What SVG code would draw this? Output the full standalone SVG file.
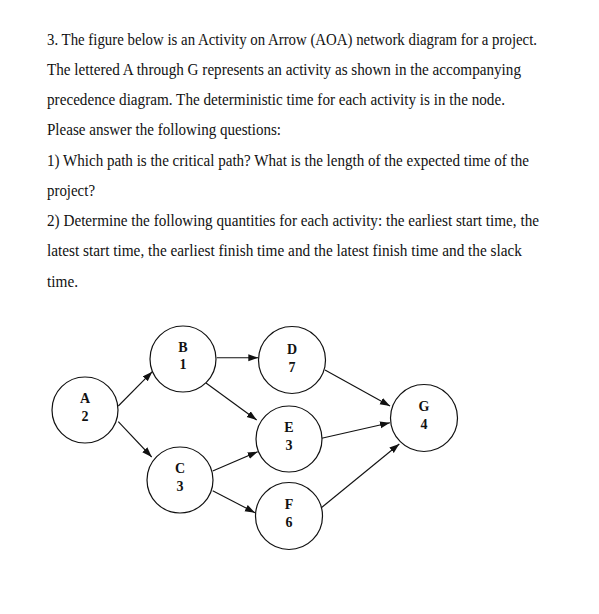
<svg xmlns="http://www.w3.org/2000/svg" width="599" height="614" viewBox="0 0 599 614">
<style>
.q{font-family:"Liberation Serif","Times New Roman",serif;font-size:16.5px;fill:#111}
.n{fill:#fff;stroke:#111;stroke-width:1.2}
.t{font-family:"Liberation Serif","Times New Roman",serif;font-size:14px;font-weight:bold;fill:#111;text-anchor:middle}
.e{stroke:#111;stroke-width:1.1;fill:none;marker-end:url(#ah)}
</style>
<defs>
<marker id="ah" markerUnits="userSpaceOnUse" markerWidth="11" markerHeight="8" refX="10" refY="3.5" orient="auto">
<path d="M0,0 L10,3.5 L0,7 z" fill="#111"/>
</marker>
</defs>
<rect width="599" height="614" fill="#fff"/>
<g id="question">
<text class="q" x="47" y="45" textLength="490" lengthAdjust="spacingAndGlyphs">3. The figure below is an Activity on Arrow (AOA) network diagram for a project.</text>
<text class="q" x="47" y="75" textLength="474" lengthAdjust="spacingAndGlyphs">The lettered A through G represents an activity as shown in the accompanying</text>
<text class="q" x="47" y="105" textLength="458" lengthAdjust="spacingAndGlyphs">precedence diagram. The deterministic time for each activity is in the node.</text>
<text class="q" x="47" y="135" textLength="234" lengthAdjust="spacingAndGlyphs">Please answer the following questions:</text>
<text class="q" x="47" y="166" textLength="482" lengthAdjust="spacingAndGlyphs">1) Which path is the critical path? What is the length of the expected time of the</text>
<text class="q" x="47" y="196" textLength="48" lengthAdjust="spacingAndGlyphs">project?</text>
<text class="q" x="47" y="226" textLength="492" lengthAdjust="spacingAndGlyphs">2) Determine the following quantities for each activity: the earliest start time, the</text>
<text class="q" x="47" y="256" textLength="475" lengthAdjust="spacingAndGlyphs">latest start time, the earliest finish time and the latest finish time and the slack</text>
<text class="q" x="47" y="287" textLength="31" lengthAdjust="spacingAndGlyphs">time.</text>
</g>
<g id="connectors">
<line class="e" x1="118.3" y1="406" x2="152.3" y2="371.7"/>
<line class="e" x1="118.3" y1="421.7" x2="151.7" y2="457"/>
<line class="e" x1="216.7" y1="357.7" x2="258.3" y2="357.7"/>
<line class="e" x1="206" y1="383" x2="256.7" y2="420"/>
<line class="e" x1="212.7" y1="471" x2="257.7" y2="451.7"/>
<line class="e" x1="212.7" y1="490.7" x2="255" y2="512.7"/>
<line class="e" x1="325" y1="370" x2="390" y2="406"/>
<line class="e" x1="321.7" y1="438.3" x2="390" y2="422.7"/>
<line class="e" x1="320.7" y1="508.3" x2="399.3" y2="444"/>
</g>
<g id="node-A"><circle class="n" cx="85" cy="410" r="33"/><text class="t" x="85" y="403">A</text><text class="t" x="85" y="421">2</text></g>
<g id="node-B"><circle class="n" cx="183" cy="359" r="33"/><text class="t" x="183" y="352">B</text><text class="t" x="183" y="369">1</text></g>
<g id="node-C"><circle class="n" cx="180" cy="480" r="33"/><text class="t" x="180" y="473">C</text><text class="t" x="180" y="491">3</text></g>
<g id="node-D"><circle class="n" cx="292" cy="360" r="33.5"/><text class="t" x="292" y="354">D</text><text class="t" x="292" y="372">7</text></g>
<g id="node-E"><circle class="n" cx="289" cy="439" r="33"/><text class="t" x="289" y="432">E</text><text class="t" x="289" y="450">3</text></g>
<g id="node-F"><circle class="n" cx="289" cy="516" r="33.5"/><text class="t" x="289" y="509">F</text><text class="t" x="289" y="527">6</text></g>
<g id="node-G"><circle class="n" cx="424" cy="418" r="33.5"/><text class="t" x="424" y="411">G</text><text class="t" x="424" y="429">4</text></g>
</svg>
